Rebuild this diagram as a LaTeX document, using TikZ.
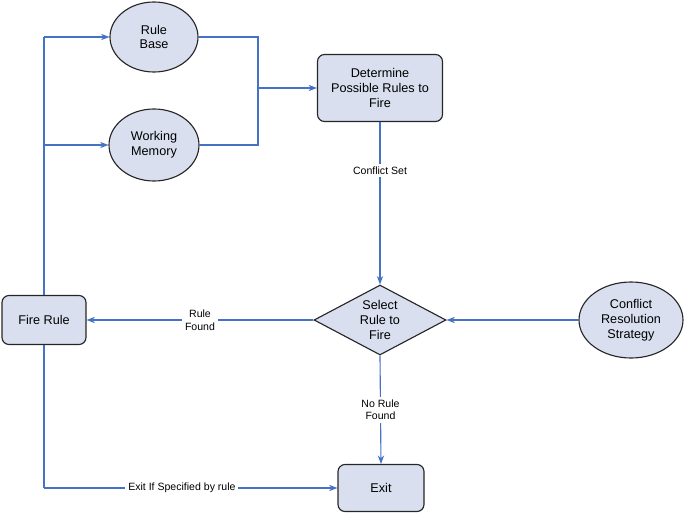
\documentclass[tikz,border=0pt]{standalone}
\usepackage{fontspec}
\setmainfont{Liberation Sans}
\usepackage{tikz}
\usetikzlibrary{shapes.geometric,arrows.meta}
\definecolor{nodefill}{HTML}{D9DFEF}
\definecolor{linkblue}{HTML}{4472C4}
\tikzset{
  box/.style={rectangle, rounded corners=5pt, draw=black!85, thick, fill=nodefill, align=center, font=\fontsize{9}{10.5}\selectfont},
  oval/.style={ellipse, draw=black!85, thick, fill=nodefill, align=center, inner sep=0pt, font=\fontsize{9}{10.5}\selectfont},
  link/.style={draw=linkblue, thick, -{Stealth[length=6pt]}},
  line/.style={draw=linkblue, thick},
  lbl/.style={fill=white, inner sep=2pt, font=\fontsize{7.5}{9}\selectfont, align=center}
}
\begin{document}
\begin{tikzpicture}[x=0.025cm, y=-0.025cm]
    \useasboundingbox (0,0) rectangle (685,513);
    % Nodes
    \node[oval, minimum width=88*0.025cm, minimum height=70*0.025cm] (rulebase) at (154,37) {Rule\\Base};
    \node[oval, minimum width=90*0.025cm, minimum height=72*0.025cm] (memory) at (154,145) {Working\\Memory};
    \node[box, minimum width=125*0.025cm, minimum height=67*0.025cm] (determine) at (380,88) {Determine\\Possible Rules to\\Fire};
    \node[diamond, draw=black!85, thick, fill=nodefill, align=center, aspect=1.9, inner sep=1pt, minimum width=132*0.025cm, minimum height=70*0.025cm, font=\fontsize{9}{10.5}\selectfont] (select) at (380,320) {Select\\Rule to\\Fire};
    \node[oval, minimum width=104*0.025cm, minimum height=76*0.025cm] (strategy) at (631,320) {Conflict\\Resolution\\Strategy};
    \node[box, minimum width=84*0.025cm, minimum height=49*0.025cm] (fire) at (44,320) {Fire Rule};
    \node[box, minimum width=86*0.025cm, minimum height=47*0.025cm] (exit) at (381,488) {Exit};
    \coordinate (join) at (258,88);
    \coordinate (left) at (44,37);
    \coordinate (corner) at (44,488);

    % Connectors
    \draw[line] (rulebase.east) -| (join) |- (memory.east);
    \draw[link] (join) -- (determine.west);
    \draw[line] (fire.north) -- (left);
    \draw[link] (left) -- (rulebase.west);
    \draw[link] (fire.north |- memory.west) -- (memory.west);
    \draw[link] (determine.south) -- node[lbl, pos=0.3] {Conflict Set} (select.north);
    \draw[link] (select.west) -- node[lbl] {Rule\\Found} (fire.east);
    \draw[link] (strategy.west) -- (select.east);
    \draw[link] (select.south) -- node[lbl] {No Rule\\Found} (exit.north);
    \draw[line] (fire.south) -- (corner);
    \draw[link] (corner) -- node[lbl, pos=0.47] {Exit If Specified by rule} (exit.west);
\end{tikzpicture}
\end{document}
